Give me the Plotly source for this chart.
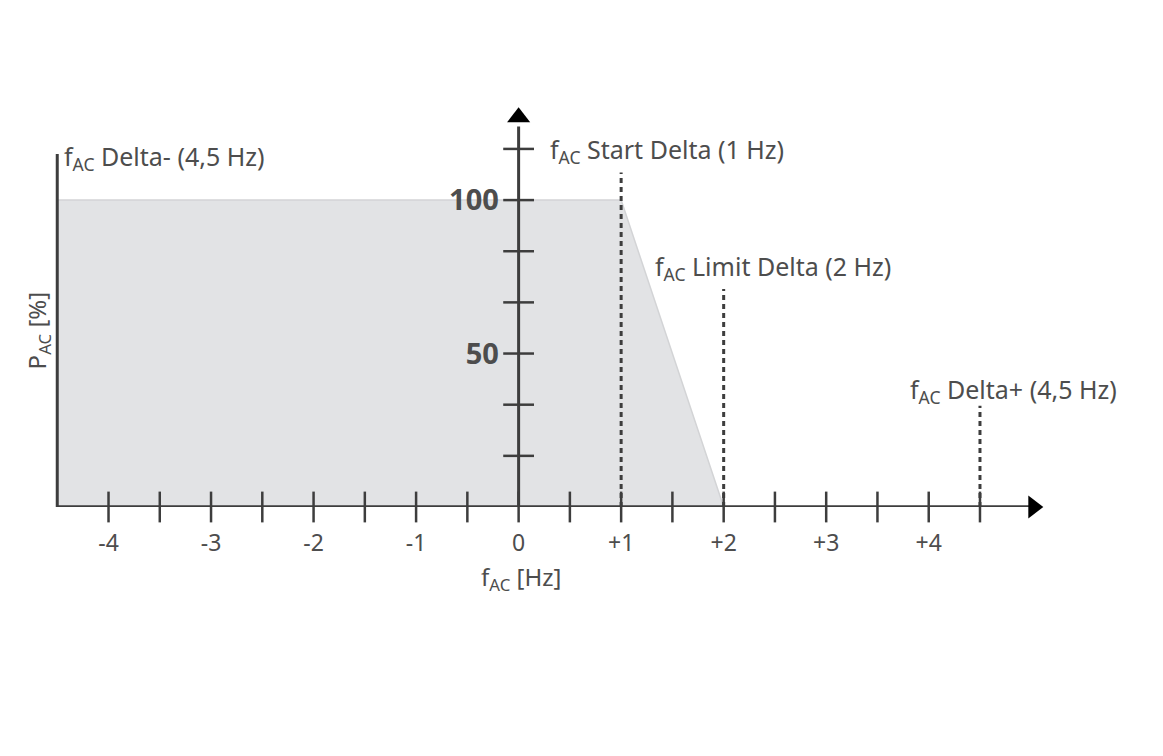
import plotly.graph_objects as go

# power curve (P_AC in % over frequency deviation in Hz)
curve_x = [-4.5, 1, 2]
curve_y = [100, 100, 0]

# dotted marker lines: frequency, height of line
marker_f = [1, 2, 4.5]
marker_top = [109, 71, 33]

x_ticks = [-4, -3.5, -3, -2.5, -2, -1.5, -1, -0.5, 0, 0.5, 1, 1.5, 2, 2.5, 3, 3.5, 4, 4.5]
x_labels = [-4, -3, -2, -1, 0, 1, 2, 3, 4]
x_label_text = ["-4", "-3", "-2", "-1", "0", "+1", "+2", "+3", "+4"]
y_ticks = [100 / 6 * i for i in range(1, 8)]
y_labels = [50, 100]

axis_col = "#3d3d3d"
text_col = "#4d4d4d"
font = "Noto Sans"

x_min, x_max = -4.6, 5.3
y_min, y_max = 0, 130

fig = go.Figure()

# filled area
fig.add_trace(go.Scatter(
    x=curve_x + [curve_x[-1], curve_x[0]], y=curve_y + [0, 0],
    fill="toself", fillcolor="#e2e3e5", mode="lines",
    line=dict(color="#d3d4d6", width=1.5), hoverinfo="skip"))

# dotted verticals
for f, top in zip(marker_f, marker_top):
    fig.add_trace(go.Scatter(x=[f, f], y=[0, top], mode="lines",
                             line=dict(color=axis_col, width=3, dash="5px,4px"),
                             hoverinfo="skip"))

# left border at -4.5
fig.add_trace(go.Scatter(x=[-4.5, -4.5], y=[0, 115], mode="lines",
                         line=dict(color=axis_col, width=3), hoverinfo="skip"))

# x axis line + arrow
fig.add_trace(go.Scatter(x=[-4.5, 5.0], y=[0, 0], mode="lines",
                         line=dict(color=axis_col, width=3.5), hoverinfo="skip"))
fig.add_trace(go.Scatter(x=[5.02], y=[0], mode="markers", cliponaxis=False,
                         marker=dict(symbol="triangle-right", size=20, color="black"),
                         hoverinfo="skip"))
# y axis line + arrow
fig.add_trace(go.Scatter(x=[0, 0], y=[0, 124], mode="lines",
                         line=dict(color=axis_col, width=3), hoverinfo="skip"))
fig.add_trace(go.Scatter(x=[0], y=[127], mode="markers", cliponaxis=False,
                         marker=dict(symbol="triangle-up", size=20, color="black"),
                         hoverinfo="skip"))

# crossing tick marks
fig.add_trace(go.Scatter(x=x_ticks, y=[0] * len(x_ticks), mode="markers", cliponaxis=False,
                         marker=dict(symbol="line-ns", size=22,
                                     line=dict(color=axis_col, width=2.5)),
                         hoverinfo="skip"))
fig.add_trace(go.Scatter(x=[0] * len(y_ticks), y=y_ticks, mode="markers",
                         marker=dict(symbol="line-ew", size=22,
                                     line=dict(color=axis_col, width=2.5)),
                         hoverinfo="skip"))

fig.update_xaxes(range=[x_min, x_max], showgrid=False, zeroline=False, showline=False,
                 tickvals=x_labels, ticktext=x_label_text,
                 ticks="outside", ticklen=15, tickcolor="rgba(0,0,0,0)",
                 tickfont=dict(family=font, size=23, color=text_col))
fig.update_yaxes(range=[y_min, y_max], showgrid=False, zeroline=False, showline=False,
                 anchor="free", position=(0 - x_min) / (x_max - x_min),
                 tickvals=y_labels, ticktext=["<b>%d</b>" % v for v in y_labels],
                 ticks="outside", ticklen=14, tickcolor="rgba(0,0,0,0)",
                 tickfont=dict(family=font, size=29, color=text_col))

notes = [
    (-4.45, 114, "f<sub>AC</sub> Delta- (4,5 Hz)"),
    (0.29, 116, "f<sub>AC</sub> Start Delta (1 Hz)"),
    (1.31, 78, "f<sub>AC</sub> Limit Delta (2 Hz)"),
    (3.8, 38, "f<sub>AC</sub> Delta+ (4,5 Hz)"),
]
for x, y, t in notes:
    fig.add_annotation(x=x, y=y, text=t, showarrow=False, xanchor="left",
                       yanchor="middle", font=dict(family=font, size=25, color=text_col))

fig.add_annotation(xref="paper", yref="paper", x=(0.02 - x_min) / (x_max - x_min), y=-23 / y_max,
                   xanchor="center", yanchor="middle",
                   text="f<sub>AC</sub> [Hz]", showarrow=False,
                   font=dict(family=font, size=24, color=text_col))
fig.add_annotation(xref="paper", yref="paper", x=-0.009, y=57.5 / y_max,
                   xanchor="center", yanchor="middle",
                   text="P<sub>AC</sub> [%]", showarrow=False, textangle=-90,
                   font=dict(family=font, size=24, color=text_col))

fig.update_layout(width=1163, height=756, showlegend=False,
                  margin=dict(l=39, r=109, t=100, b=257),
                  plot_bgcolor="white", paper_bgcolor="white")

fig.write_html("out.html")
